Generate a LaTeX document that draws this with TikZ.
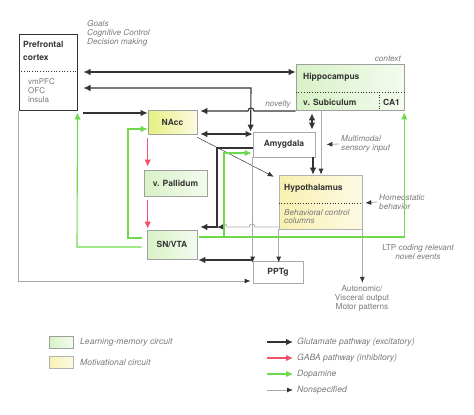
\documentclass[tikz,border=0pt]{standalone}
\usepackage{fontspec}
\setmainfont{TeX Gyre Heros}
\usetikzlibrary{arrows.meta}

\definecolor{glucol}{HTML}{333333}
\definecolor{gabacol}{HTML}{F2506C}
\definecolor{dacol}{HTML}{6FD94C}
\definecolor{nscol}{HTML}{AAAAAA}
\definecolor{txtcol}{HTML}{7A7A7A}
\definecolor{lmleft}{HTML}{D8F2C6}
\definecolor{lmright}{HTML}{F3FBEE}
\definecolor{mvleft}{HTML}{F8F0B0}
\definecolor{mvright}{HTML}{FDFAE4}
\definecolor{naccleft}{HTML}{E6F07E}

\begin{document}
\begin{tikzpicture}[x=1pt, y=-1pt,
  >={Latex[length=7pt,width=6.5pt]},
  glu/.style={draw=glucol, line width=1.1pt},
  gaba/.style={draw=gabacol, line width=1.1pt, -{Latex[length=7pt,width=6.5pt,color=gabacol]}},
  da/.style={draw=dacol, line width=1.1pt, -{Latex[length=7pt,width=6.5pt,color=dacol]}},
  ns/.style={draw=nscol, line width=0.8pt, -{Latex[length=6pt,width=5pt,color=glucol]}},
  lmbox/.style={draw=gray!75, line width=0.6pt, left color=lmleft, right color=lmright, inner sep=0pt},
  mvbox/.style={draw=gray!60, line width=0.6pt, left color=mvleft, right color=mvright, inner sep=0pt},
  plainbox/.style={draw=nscol, line width=0.8pt, fill=white, inner sep=0pt},
  lbl/.style={font=\bfseries\fontsize{8.5}{13}\selectfont, text=glucol},
  note/.style={font=\itshape\fontsize{8.2}{8.8}\selectfont, text=txtcol, align=left, inner sep=0pt},
  legtxt/.style={note, anchor=west, font=\itshape\fontsize{8.6}{9}\selectfont},
  dividerline/.style={draw=glucol, line width=0.7pt, dotted}
]
\useasboundingbox (0,0) rectangle (474,415);

% boxes
\node[draw=glucol, line width=1pt, fill=white, minimum width=58pt, minimum height=76pt] (pfc) at (48,72) {};
\node[lmbox, minimum width=108pt, minimum height=46pt] (hip) at (350,87) {};
\node[lmbox, left color=naccleft, right color=mvright, minimum width=49pt, minimum height=24pt, lbl] (nacc) at (172.5,122) {NAcc};
\node[plainbox, minimum width=62pt, minimum height=25pt, lbl] (amyg) at (284,144.5) {Amygdala};
\node[lmbox, minimum width=63pt, minimum height=26pt, lbl] (vpal) at (175.5,183) {v. Pallidum};
\node[lmbox, minimum width=50pt, minimum height=29pt, lbl] (snvta) at (172,244.5) {SN/VTA};
\node[mvbox, minimum width=83pt, minimum height=54pt] (hyp) at (320.5,202) {};
\node[plainbox, minimum width=50pt, minimum height=22pt, lbl] (pptg) at (278,272) {PPTg};

% box texts and dividers
\draw[dividerline] (pfc.west |- 0,71) -- (pfc.east |- 0,71);
\node[lbl, anchor=west, align=left, inner sep=0pt] (pfclbl) at (23,50.5) {Prefrontal\\cortex};
\node[font=\fontsize{8}{9}\selectfont, text=txtcol, anchor=west, align=left, inner sep=0pt] (pfcsub) at (28,90.5) {vmPFC\\OFC\\insula};
\draw[dividerline] (hip.west |- 0,92) -- (hip.east |- 0,92);
\draw[dividerline] (379,92) -- (hip.south -| 379,0);
\node[lbl, anchor=west, inner sep=0pt] (hiplbl) at (303,77) {Hippocampus};
\node[lbl, anchor=west, inner sep=0pt] (sublbl) at (303,102) {v. Subiculum};
\node[lbl, anchor=west, inner sep=0pt] (ca1lbl) at (383,102) {CA1};
\draw[dividerline] (hyp.west |- 0,203) -- (hyp.east |- 0,203);
\node[lbl, anchor=west, inner sep=0pt] (hyplbl) at (284,188) {Hypothalamus};
\node[note, anchor=west] (hypsub) at (284,216.5) {Behavioral control\\columns};

% notes
\node[note, anchor=west] (goals) at (87,33.5) {Goals\\Cognitive Control\\Decision making};
\node[note, anchor=east] (context) at (401,59) {context};
\node[note, anchor=east] (novelty) at (291,104) {novelty};
\node[note, anchor=west] (multi) at (341,144) {Multimodal\\sensory input};
\node[note, anchor=west] (homeo) at (379,202) {Homeostatic\\behavior};
\node[note, align=center] (ltp) at (418,252) {{\upshape LTP} coding relevant\\novel events};
\node[font=\fontsize{8.2}{8.6}\selectfont, text=txtcol, align=center, inner sep=0pt] (output) at (362,298.5) {Autonomic/\\Visceral output\\Motor patterns};

% glutamate
\draw[glu, <->] ([xshift=6pt]pfc.east |- 0,72) -- (hip.west |- 0,72);
\draw[glu, <->] ([xshift=6pt]pfc.east |- 0,88) -- (251,88) -- ([xshift=-2pt]amyg.north west);
\draw[glu, ->] ([xshift=5pt]pfc.east |- 0,113) -- (nacc.west |- 0,113);
\draw[glu, ->] (hip.south west |- 0,111) -- (254,111) .. controls (254,107) and (248,107) .. (248,111) -- ([xshift=3pt]nacc.east |- 0,111);
\draw[glu, <->] ([xshift=3pt]nacc.east |- 0,134) -- (amyg.west |- 0,134);
\draw[glu, <->] ([yshift=-3pt]hip.south -| 312,0) -- ([yshift=2pt]amyg.north -| 312,0);
\draw[glu, ->] (amyg.south -| 313,0) -- (hyp.north -| 313,0);
\draw[glu, ->] (amyg.west |- 0,148) -- (217,148) -- (217,227) -- ([xshift=3pt]snvta.east |- 0,227);
\draw[glu, ->] (pptg.west |- 0,260) -- ([xshift=1pt]snvta.east |- 0,260);
\draw[draw=glucol, line width=0.5pt, -{Latex[length=6pt,width=5pt]}] ([yshift=-3pt]nacc.south east) -- ([xshift=-5pt,yshift=-2pt]hyp.north west);

% gaba
\draw[gaba] ([yshift=-4pt]nacc.south west) -- ([yshift=3pt]nacc.south west |- vpal.north);
\draw[gaba] ([yshift=-4pt]nacc.south west |- vpal.south) -- ([yshift=1pt]nacc.south west |- snvta.north);

% dopamine
\draw[da] ([xshift=2pt]snvta.east |- 0,237) -- (hip.south east |- 0,237) -- ([yshift=-2pt]hip.south east);
\draw[da] ([xshift=2pt]snvta.east |- 0,237) -- (224,237) -- (224,153) -- ([xshift=-1pt]amyg.west |- 0,153);
\draw[da] ([xshift=-5pt]snvta.west |- 0,238) -- (128,238) -- (128,129) -- (nacc.west |- 0,129);
\draw[da] ([xshift=-5pt]snvta.west |- 0,247) -- (77,247) -- ([yshift=-2pt]pfc.south east);

% nonspecified
\draw[ns] (hip.south -| 321,0) -- (hyp.north -| 321,0);
\draw[ns] (hyp.west |- 0,227) -- (255,227) .. controls (255,223) and (249,223) .. (249,227) -- (227,227) .. controls (227,223) and (221,223) .. (221,227) -- (217,227);
\draw[ns] (amyg.south west) -- ([yshift=-2pt]amyg.south west |- pptg.north);
\draw[ns] (hyp.south west) -- ([yshift=-2pt]hyp.south west |- pptg.north);
\draw[ns] (pfc.south west) -- (pfc.south west |- 0,281) -- ([xshift=-2pt]pptg.west |- 0,281);
\draw[ns] (hyp.south east) -- ([yshift=3pt]output.north -| hyp.south east);
\draw[ns] ([xshift=-2pt]multi.west) -- ([xshift=11pt]amyg.east);
\draw[ns] ([xshift=-2pt]homeo.west) -- ([xshift=3pt]hyp.east |- 0,203);

% legend
\node[lmbox, minimum width=24pt, minimum height=12pt] (leglm) at (61,342) {};
\node[legtxt] (leglmtxt) at (80,342) {Learning-memory circuit};
\node[mvbox, minimum width=24pt, minimum height=12pt] (legmv) at (61,362) {};
\node[legtxt] (legmvtxt) at (80,362) {Motivational circuit};
\coordinate (legglu0) at (267,342);
\coordinate (leggaba0) at (267,358);
\coordinate (legda0) at (267,374);
\coordinate (legns0) at (267,390);
\node[legtxt] (legglu) at (297,342) {Glutamate pathway (excitatory)};
\node[legtxt] (leggaba) at (297,358) {GABA pathway (inhibitory)};
\node[legtxt] (legda) at (297,374) {Dopamine};
\node[legtxt] (legns) at (297,390) {Nonspecified};
\draw[glu, ->] (legglu0) -- ([xshift=-4pt]legglu.west);
\draw[gaba] (leggaba0) -- ([xshift=-4pt]leggaba.west);
\draw[da] (legda0) -- ([xshift=-4pt]legda.west);
\draw[ns] (legns0) -- ([xshift=-4pt]legns.west);
\end{tikzpicture}
\end{document}
